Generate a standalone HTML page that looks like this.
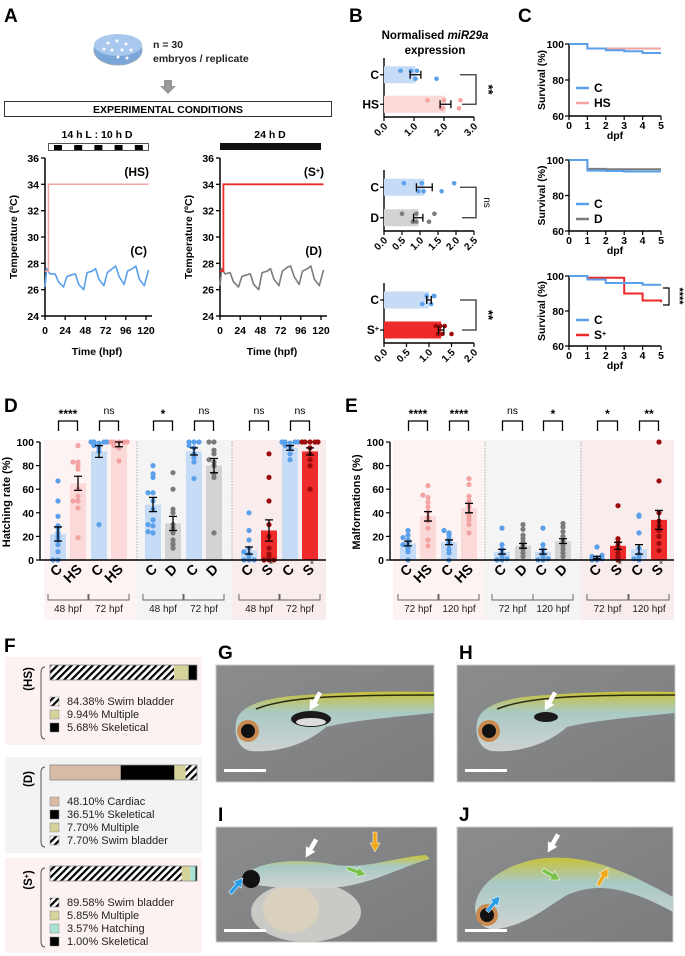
<!DOCTYPE html>
<html><head><meta charset="utf-8"><style>
html,body{margin:0;padding:0;background:#fff;}
svg{display:block;font-family:"Liberation Sans",Arial,sans-serif;}
</style></head><body>
<svg id="fig" width="685" height="956" viewBox="0 0 685 956" xmlns="http://www.w3.org/2000/svg">
<defs>
<pattern id="hatch" patternUnits="userSpaceOnUse" width="5" height="5" patternTransform="rotate(45)"><rect width="5" height="5" fill="#fff"/><rect width="2.2" height="5" fill="#000"/></pattern>
<linearGradient id="photo" x1="0" y1="0" x2="1" y2="1"><stop offset="0" stop-color="#8a8c8e"/><stop offset="1" stop-color="#7a7c7e"/></linearGradient>
<linearGradient id="fishbody" x1="0" y1="0" x2="0" y2="1"><stop offset="0" stop-color="#c8c23a"/><stop offset="0.35" stop-color="#a9c9c4"/><stop offset="1" stop-color="#cfd3d3"/></linearGradient>
</defs>
<text x="4" y="22" font-size="19" font-weight="bold">A</text>
<g>
<ellipse cx="118" cy="50" rx="24" ry="15" fill="#7aa6da" stroke="#9ab" stroke-width="1"/>
<ellipse cx="118" cy="45" rx="24" ry="11" fill="#a9c8ee"/>
<circle cx="108" cy="43" r="1.5" fill="#fff"/><circle cx="117" cy="41" r="1.5" fill="#fff"/><circle cx="126" cy="44" r="1.5" fill="#fff"/><circle cx="112" cy="50" r="1.5" fill="#fff"/><circle cx="122" cy="50" r="1.5" fill="#fff"/><circle cx="131" cy="50" r="1.5" fill="#fff"/><circle cx="104" cy="49" r="1.5" fill="#fff"/><circle cx="118" cy="57" r="1.5" fill="#fff"/><circle cx="127" cy="58" r="1.5" fill="#fff"/>
</g>
<text x="153" y="48" font-size="10.5" font-weight="bold" fill="#222">n = 30</text>
<text x="153" y="62" font-size="10.5" font-weight="bold" fill="#222">embryos / replicate</text>
<polygon points="164,80 172,80 172,86 176,86 168,94 160,86 164,86" fill="#999"/>
<rect x="4.5" y="101.5" width="327" height="15" fill="#fff" stroke="#333" stroke-width="1"/>
<text x="168" y="113" font-size="10.5" font-weight="bold" text-anchor="middle">EXPERIMENTAL CONDITIONS</text>
<text x="97" y="138" font-size="10.5" font-weight="bold" text-anchor="middle">14 h L : 10 h D</text>
<rect x="48.5" y="143.5" width="100" height="7" fill="#fff" stroke="#555" stroke-width="1"/>
<g id="ldsq"></g>
<text x="270" y="138" font-size="10.5" font-weight="bold" text-anchor="middle">24 h D</text>
<rect x="220" y="143" width="101" height="7" fill="#111"/>
<g id="gA"></g>
<text x="349" y="22" font-size="19" font-weight="bold">B</text>
<text x="435" y="39" font-size="11.5" font-weight="bold" text-anchor="middle">Normalised <tspan font-style="italic">miR29a</tspan></text>
<text x="435" y="54" font-size="11.5" font-weight="bold" text-anchor="middle">expression</text>
<g id="gB"></g>
<text x="518" y="22" font-size="19" font-weight="bold">C</text>
<g id="gC"></g>
<text x="4" y="412" font-size="19" font-weight="bold">D</text>
<text x="345" y="412" font-size="19" font-weight="bold">E</text>
<g id="gD"></g>
<g id="gE"></g>
<text x="4" y="652" font-size="19" font-weight="bold">F</text>
<g id="gF"></g>
<g id="gP"></g>
</svg>
<script>
var NS="http://www.w3.org/2000/svg";
function mk(parent,tag,attrs,text){var e=document.createElementNS(NS,tag);for(var k in attrs)e.setAttribute(k,attrs[k]);if(text!==undefined)e.textContent=text;parent.appendChild(e);return e;}
function $(id){return document.getElementById(id);}

// ---------- DATA ----------
var tempTimes=[0,2,6,12,16,22,26,30,36,40,46,50,56,60,64,70,74,80,84,88,94,98,104,108,112,118,123];
var tempControl=[26.2,27.6,27.2,27.2,26.6,26.2,27.0,27.1,27.2,26.4,26.0,27.3,27.4,27.6,26.8,26.3,27.3,27.6,27.8,27.0,26.4,27.4,27.6,27.8,26.8,26.3,27.5];
var tempDark=[26.3,27.6,27.2,27.3,26.6,26.2,27.0,27.1,27.2,26.4,26.0,27.3,27.4,27.6,26.8,26.3,27.4,27.7,27.8,27.0,26.4,27.4,27.6,27.8,26.8,26.3,27.5];
var tempHeatTimes=[0,4,4,123];
var tempHeat=[27.4,27.4,34,34];
var tempTicks=[24,26,28,30,32,34,36];
var timeTicks=[0,24,48,72,96,120];
var bMeans1=[1.05,2.05], bSem1=[0.18,0.18];
var bPtsC1=[0.55,1.05,1.1,1.75,0.9], bPtsHS1=[1.45,1.9,2.0,2.5,2.55,1.95];
var bMeans2=[1.12,0.95], bSem2=[0.22,0.13];
var bPtsC2=[0.55,1.1,1.05,1.6,1.95,0.95], bPtsD2=[0.5,0.8,0.9,1.25,1.4,0.9];
var bMeans3=[1.0,1.27], bSem3=[0.05,0.06];
var bPtsC3=[0.95,1.05,1.1,0.85,1.12], bPtsS3=[1.15,1.2,1.35,1.5,1.25,1.3];
var survDays=[0,1,2,3,4,5];
var surv1C=[100,97.5,96.5,96,95,95], surv1HS=[100,97.5,97.5,97.5,97.5,97.5];
var surv2C=[100,94,93.8,93.5,93.5,93.5], surv2D=[100,95,94.8,94.8,94.8,94.8];
var surv3C=[100,98,96,96,95,95], surv3S=[100,99,99,90,86,85];
var dMeans=[22,65,92,98,47,31,92,80,8,25,95,92];
var dSem=[6,6,5,2,6,6,3,6,3,9,2,3];
var dPoints=[[0,0,7,13,17,20,23,27,29,37,50,67],[19,44,50,50,54,60,77,80,83,83,97],[30,92,95,97,99,100,100,100,100],[84,95,97,100,100,100,100,100],[23,24,29,30,34,43,50,57,57,70,73,80],[10,13,14,17,23,27,30,40,43,60,74],[69,83,87,90,95,97,100,100,100],[23,70,73,80,83,85,90,93,100,100],[0,0,0,3,5,7,10,17,25,40],[0,0,0,2,5,10,20,30,50,70,90],[85,90,95,97,99,100,100,100,100],[60,80,85,90,95,100,100,100,100,100]];
var eMeans=[14,37,15,44,7,12,7,16,2,12,9,34];
var eSem=[2,4,2,4,2,2,2,2,1,3,4,8];
var ePoints=[[0,7,10,12,13,15,17,19,21,25],[12,17,27,33,36,41,45,49,53,55,63],[0,6,9,13,15,18,21,23,25],[23,30,34,37,40,45,48,50,54,64,69],[0,0,1,3,6,9,13,27],[3,6,9,12,15,18,21,26,30],[0,0,1,3,6,9,13,27],[3,6,9,12,16,20,24,28,31],[0,0,1,2,3,4,11],[0,3,6,9,12,15,18,46],[0,1,3,5,10,23,37,38],[8,14,20,25,29,33,40,67,100]];
var groupLabels=["C","HS","C","HS","C","D","C","D","C","S\u00d7","C","S\u00d7"];
var dSig=["****","ns","*","ns","ns","ns"];
var eSig=["****","****","ns","*","*","**"];
var dAges=["48 hpf","72 hpf","48 hpf","72 hpf","48 hpf","72 hpf"];
var eAges=["72 hpf","120 hpf","72 hpf","120 hpf","72 hpf","120 hpf"];
var fHSVals=[84.38,9.94,5.68], fHSCats=["Swim bladder","Multiple","Skeletical"];
var fDVals=[48.10,36.51,7.70,7.70], fDCats=["Cardiac","Skeletical","Multiple","Swim bladder"];
var fSVals=[89.58,5.85,3.57,1.00], fSCats=["Swim bladder","Multiple","Hatching","Skeletical"];

var BLUE="#5aa0ea",LBLUE="#c6dbf6",PINK="#f4a3a3",LPINK="#fbd9d9",RED="#ee2a2a",DRED="#9b0d0d",GREY="#7b7b7b",LGREY="#d3d3d3";
var catColor={"Swim bladder":"url(#hatch)","Multiple":"#d6d39a","Skeletical":"#000","Cardiac":"#d8bba7","Hatching":"#a8e2d2"};

(function(){var g=$("ldsq");for(var i=0;i<5;i++){var r=mk(g,"rect",{x:54+i*20.2,y:145,width:8,height:5,fill:"#000"});

}})();

// ---------- Panel A ----------
function tempChart(x0,lineCol,heatCol,heatLabel,ctlLabel,ctlData,heatW){
  var g=$("gA");
  var xs=function(t){return x0+t*(101/120);};
  var ys=function(v){return 316-(v-24)*(158/12);};
  var ax=mk(g,"path",{d:"M"+x0+",158V316H"+(x0+107),stroke:"#000","stroke-width":1.5,fill:"none"});
  
  
  tempTicks.forEach(function(v){mk(g,"line",{x1:x0-4,x2:x0,y1:ys(v),y2:ys(v),stroke:"#000","stroke-width":1.3});
    var t=mk(g,"text",{x:x0-6,y:ys(v)+4,"font-size":10.5,"font-weight":"bold","text-anchor":"end"},v);
    
    });
  timeTicks.forEach(function(v){mk(g,"line",{x1:xs(v),x2:xs(v),y1:316,y2:320,stroke:"#000","stroke-width":1.3});
    var t=mk(g,"text",{x:xs(v),y:334,"font-size":10.5,"font-weight":"bold","text-anchor":"middle"},v);
    
    });
  var xt=mk(g,"text",{x:x0+52,y:355,"font-size":10.5,"font-weight":"bold","text-anchor":"middle"},"Time (hpf)");
  
  
  var yt=mk(g,"text",{x:0,y:0,"font-size":10.5,"font-weight":"bold","text-anchor":"middle",transform:"translate("+(x0-28)+",237) rotate(-90)"},"Temperature (\u00baC)");
  
  
  var d="";tempTimes.forEach(function(t,i){d+=(i?"L":"M")+xs(t).toFixed(1)+","+ys(ctlData[i]).toFixed(1);});
  var l=mk(g,"path",{d:d,stroke:lineCol,"stroke-width":1.6,fill:"none","stroke-linejoin":"round"});
  
  
  var d2="";tempHeatTimes.forEach(function(t,i){d2+=(i?"L":"M")+xs(t).toFixed(1)+","+ys(tempHeat[i]).toFixed(1);});
  var l2=mk(g,"path",{d:d2,stroke:heatCol,"stroke-width":heatW,fill:"none"});
  
  
  var a=mk(g,"text",{x:x0+104,y:176,"font-size":12,"font-weight":"bold","text-anchor":"end"},heatLabel);
  
  
  var b=mk(g,"text",{x:x0+102,y:255,"font-size":12,"font-weight":"bold","text-anchor":"end"},ctlLabel);
  
  
  return a;
}
tempChart(45,BLUE,PINK,"(HS)","(C)",tempControl,1.5);
var sl=tempChart(220,GREY,RED,"(S","(D)",tempDark,1.8);
mk(sl,"tspan",{"baseline-shift":"super","font-size":7},"+");mk(sl,"tspan",{},")");

// ---------- Panel B ----------
function bChart(yTop,yAxis,maxV,ticks,means,sems,ptsA,ptsB,labA,labB,colA,dotA,colB,dotB,sig,supB){
  var g=$("gB");var x0=384,x1=474;
  var xs=function(v){return x0+v/maxV*(x1-x0);};
  var rowH=(yAxis-yTop)/2;
  var ax=mk(g,"path",{d:"M"+x0+","+yTop+"V"+yAxis+"H"+x1,stroke:"#000","stroke-width":1.4,fill:"none"});
  
  
  ticks.forEach(function(v){mk(g,"line",{x1:xs(v),x2:xs(v),y1:yAxis,y2:yAxis+4,stroke:"#000","stroke-width":1.2});
    var t=mk(g,"text",{x:0,y:0,"font-size":10,"font-weight":"bold","text-anchor":"end",transform:"translate("+(xs(v)+4)+","+(yAxis+10)+") rotate(-45)"},v.toFixed(1));
    
    });
  [[labA,means[0],sems[0],ptsA,colA,dotA],[labB,means[1],sems[1],ptsB,colB,dotB]].forEach(function(r,i){
    var cy=yTop+rowH*(i+0.5)+2;
    var bar=mk(g,"rect",{x:x0,y:cy-8.5,width:xs(r[1])-x0,height:17,fill:r[4]});
    
    
    mk(g,"line",{x1:x0-4,x2:x0,y1:cy,y2:cy,stroke:"#000","stroke-width":1.2});
    var lt=mk(g,"text",{x:x0-5,y:cy+4,"font-size":12,"font-weight":"bold","text-anchor":"end"},r[0]);
    
    
    if(i==1&&supB){mk(lt,"tspan",{"baseline-shift":"super","font-size":7},"+");}
    r[3].forEach(function(v,j){var c=mk(g,"circle",{cx:xs(v),cy:cy+(j%2?4:-4),r:2.3,fill:r[5]});
      
      });
    var e1=xs(r[1]-r[2]),e2=xs(r[1]+r[2]);
    var eb=mk(g,"path",{d:"M"+e1+","+cy+"H"+e2+"M"+e1+","+(cy-4)+"V"+(cy+4)+"M"+e2+","+(cy-4)+"V"+(cy+4),stroke:"#000","stroke-width":1.3,fill:"none"});
    
    
  });
  var c1=yTop+rowH*0.5+2,c2=yTop+rowH*1.5+2;
  var br=mk(g,"path",{d:"M"+(x1-14)+","+c1+"H"+(x1+2)+"V"+c2+"H"+(x1-12),stroke:"#333","stroke-width":1.3,fill:"none"});
  
  
  var st=mk(g,"text",{x:0,y:0,"font-size":sig=="ns"?10:13,"font-weight":sig=="ns"?"normal":"bold","text-anchor":"middle",transform:"translate("+(x1+10)+","+((c1+c2)/2)+") rotate(90)"},sig);
  
  
}
bChart(58,117,3,[0,1,2,3],bMeans1,bSem1,bPtsC1,bPtsHS1,"C","HS",LBLUE,BLUE,LPINK,PINK,"**",false);
bChart(170,231,2.5,[0,0.5,1,1.5,2,2.5],bMeans2,bSem2,bPtsC2,bPtsD2,"C","D",LBLUE,BLUE,LGREY,GREY,"ns",false);
bChart(283,343,2,[0,0.5,1,1.5,2],bMeans3,bSem3,bPtsC3,bPtsS3,"C","S",LBLUE,BLUE,RED,DRED,"**",true);

// ---------- Panel C ----------
function survChart(y100,y60,sA,sB,colB,labB){
  var g=$("gC");var x0=569,x1=661;
  var xs=function(d){return x0+d/5*(x1-x0);};
  var ys=function(v){return y60-(v-60)/40*(y60-y100);};
  var ax=mk(g,"path",{d:"M"+x0+","+y100+"V"+y60+"H"+x1,stroke:"#000","stroke-width":1.4,fill:"none"});
  
  
  [60,80,100].forEach(function(v){mk(g,"line",{x1:x0-4,x2:x0,y1:ys(v),y2:ys(v),stroke:"#000","stroke-width":1.2});
    var t=mk(g,"text",{x:x0-5,y:ys(v)+4,"font-size":10.5,"font-weight":"bold","text-anchor":"end"},v);
    
    });
  survDays.forEach(function(d){mk(g,"line",{x1:xs(d),x2:xs(d),y1:y60,y2:y60+4,stroke:"#000","stroke-width":1.2});
    var t=mk(g,"text",{x:xs(d),y:y60+13,"font-size":10.5,"font-weight":"bold","text-anchor":"middle"},d);
    
    });
  var xt=mk(g,"text",{x:(x0+x1)/2,y:y60+23,"font-size":10.5,"font-weight":"bold","text-anchor":"middle"},"dpf");
  
  
  var yt=mk(g,"text",{x:0,y:0,"font-size":10.5,"font-weight":"bold","text-anchor":"middle",transform:"translate("+(x0-24)+","+((y100+y60)/2)+") rotate(-90)"},"Survival (%)");
  
  
  function step(arr,col,w){var d="M"+xs(0)+","+ys(arr[0]);for(var i=1;i<arr.length;i++){d+="H"+xs(survDays[i])+"V"+ys(arr[i]);}
    var p=mk(g,"path",{d:d,stroke:col,"stroke-width":w,fill:"none"});
    
    }
  step(sB,colB,2);step(sA,BLUE,2);
  var ly=y100+44;
  mk(g,"line",{x1:576,x2:589,y1:ly,y2:ly,stroke:BLUE,"stroke-width":2.5});
  var a=mk(g,"text",{x:594,y:ly+4,"font-size":12,"font-weight":"bold"},"C");
  
  
  mk(g,"line",{x1:576,x2:589,y1:ly+15,y2:ly+15,stroke:colB,"stroke-width":2.5});
  var b=mk(g,"text",{x:594,y:ly+19,"font-size":12,"font-weight":"bold"},labB);
  
  
  return b;
}
survChart(44,116,surv1C,surv1HS,PINK,"HS");
survChart(160,231,surv2C,surv2D,GREY,"D");
var s3=survChart(276,346,surv3C,surv3S,RED,"S");
mk(s3,"tspan",{"baseline-shift":"super","font-size":7},"+");
(function(){var g=$("gC");var br=mk(g,"path",{d:"M663,288H669V305H663",stroke:"#000","stroke-width":1.2,fill:"none"});


var s=mk(g,"text",{x:0,y:0,"font-size":11,"font-weight":"bold","text-anchor":"middle",transform:"translate(676,296) rotate(90)"},"****");

})();

// ---------- Panels D & E ----------
function dotChart(gid,x0,xEnd,centers,bgs,means,sems,pts,sigs,ages,ytitle){
  var g=$(gid);var y0=560,y100=442;
  var ys=function(v){return y0-v/100*(y0-y100);};
  var bgCols=["#fdf3f3","#f4f4f4","#f9ecec"];
  bgs.forEach(function(b,i){var r=mk(g,"rect",{x:b[0],y:440,width:b[1]-b[0],height:180,fill:bgCols[i]});
    
    
    if(i>0){mk(g,"line",{x1:b[0],x2:b[0],y1:442,y2:560,stroke:"#999","stroke-width":0.8,"stroke-dasharray":"1.5,1.5"});}});
  var fills=[LBLUE,LPINK,LBLUE,LPINK,LBLUE,LGREY,LBLUE,LGREY,LBLUE,RED,LBLUE,RED];
  var dots=[BLUE,PINK,BLUE,PINK,BLUE,GREY,BLUE,GREY,BLUE,DRED,BLUE,DRED];
  means.forEach(function(m,i){var cx=centers[i];
    var bar=mk(g,"rect",{x:cx-8,y:ys(m),width:16,height:y0-ys(m),fill:fills[i]});
    
    
    var cnt={};
    pts[i].forEach(function(v){var k=Math.round(v/3);cnt[k]=(cnt[k]||0)+1;var off=[0,-5,5,-8,8,-3,3][(cnt[k]-1)%7];
      var c=mk(g,"circle",{cx:cx+off,cy:ys(v),r:2.6,fill:dots[i]});
      
      });
    var e1=ys(m-sems[i]),e2=ys(Math.min(m+sems[i],100));
    var eb=mk(g,"path",{d:"M"+cx+","+e1+"V"+e2+"M"+(cx-4)+","+e1+"H"+(cx+4)+"M"+(cx-4)+","+e2+"H"+(cx+4),stroke:"#000","stroke-width":1.3,fill:"none"});
    
    
    var lab=groupLabels[i];
    var isS=lab.charAt(0)=="S";
    var t=mk(g,"text",{x:0,y:0,"font-size":14,"font-weight":"bold","text-anchor":"end",transform:"translate("+(cx+5)+",570) rotate(-45)"},isS?"S":lab);
    
    
    if(isS){var x=mk(g,"text",{x:cx+2,y:565,"font-size":7,"text-anchor":"middle"},"\u00d7");
      
      }
  });
  var ax=mk(g,"path",{d:"M"+x0+","+y100+"V"+y0+"H"+xEnd,stroke:"#000","stroke-width":1.4,fill:"none"});
  
  
  [0,20,40,60,80,100].forEach(function(v){mk(g,"line",{x1:x0-4,x2:x0,y1:ys(v),y2:ys(v),stroke:"#000","stroke-width":1.2});
    var t=mk(g,"text",{x:x0-6,y:ys(v)+4,"font-size":10.5,"font-weight":"bold","text-anchor":"end"},v);
    
    });
  var yt=mk(g,"text",{x:0,y:0,"font-size":11,"font-weight":"bold","text-anchor":"middle",transform:"translate("+(x0-30)+",502) rotate(-90)"},ytitle);
  
  
  for(var p=0;p<6;p++){var a=centers[2*p],b=centers[2*p+1],mid=(a+b)/2;
    var br=mk(g,"path",{d:"M"+(a+0.5)+",431V421H"+(b-0.5)+"V431",stroke:"#000","stroke-width":1.3,fill:"none"});
    
    
    var st=mk(g,"text",{x:mid,y:sigs[p]=="ns"?414:418,"font-size":sigs[p]=="ns"?10.5:12,"font-weight":sigs[p]=="ns"?"normal":"bold","text-anchor":"middle"},sigs[p]);
    
    
    var l=a-10,r=b+10;
    var ab=mk(g,"path",{d:"M"+l+",594V600H"+r+"V594",stroke:"#666","stroke-width":1,fill:"none"});
    
    
    var at=mk(g,"text",{x:mid,y:612,"font-size":10,"text-anchor":"middle",fill:"#222"},ages[p]);
    
    }
}
dotChart("gD",40,326,[58,78,99,119,153,173,194,214,249,269,290,310],[[44,137],[137,232],[232,326]],dMeans,dSem,dPoints,dSig,dAges,"Hatching rate (%)");
dotChart("gE",390,674,[408,428,449,469,502,523,543,563,597,618,639,659],[[393,485],[485,581],[581,674]],eMeans,eSem,ePoints,eSig,eAges,"Malformations (%)");

// ---------- Panel F ----------
function fBox(yTop,yBot,vals,cats,label){
  var g=$("gF");var bx=50,bw=147;
  var bg=mk(g,"rect",{x:5,y:yTop,width:197,height:yBot-yTop,fill:label=="(D)"?"#f3f3f3":"#fcf2f2"});
  
  
  var by=yTop+8;var x=bx;var tot=vals.reduce(function(a,b){return a+b;},0);
  vals.forEach(function(v,i){var w=v/tot*bw;
    var r=mk(g,"rect",{x:x,y:by,width:w,height:15,fill:catColor[cats[i]]});
    
    x+=w;});
  mk(g,"rect",{x:bx,y:by,width:bw,height:15,fill:"none",stroke:"#888","stroke-width":0.8});
  var br=mk(g,"path",{d:"M45,"+(by+2)+"Q41,"+(by+2)+" 41,"+(by+8)+"V"+(yBot-12)+"Q41,"+(yBot-6)+" 45,"+(yBot-6),stroke:"#555","stroke-width":1,fill:"none"});
  
  
  var ly=by+36;
  vals.forEach(function(v,i){var yy=ly+i*13;
    var sw=mk(g,"rect",{x:50,y:yy-4,width:9,height:9,fill:catColor[cats[i]],stroke:"#888","stroke-width":0.5});
    
    
    var t=mk(g,"text",{x:67,y:yy+4,"font-size":11,fill:"#222"},v.toFixed(2)+"%  "+cats[i]);
    t.setAttribute('xml:space','preserve');
    
    });
  var lt=mk(g,"text",{x:0,y:0,"font-size":11.5,"font-weight":"bold","text-anchor":"middle",transform:"translate(32,"+(by+14)+") rotate(-90)"},label);
  
  
  return lt;
}
fBox(657,745,fHSVals,fHSCats,"(HS)");
fBox(757,853,fDVals,fDCats,"(D)");
var fs=fBox(858,953,fSVals,fSCats,"(S");
mk(fs,"tspan",{"baseline-shift":"super","font-size":7},"+");mk(fs,"tspan",{},")");

// ---------- Photos ----------
function arrow(g,x,y,ang,col){var a=mk(g,"path",{d:"M0,0L-5,-9H-2V-20H2V-9H5Z",fill:col,stroke:"#fff","stroke-width":0.5,transform:"translate("+x+","+y+") rotate("+ang+")"});
  
  }
function photo(x,y,w,h,letter,kind){
  var g=$("gP");
  var L=mk(g,"text",{x:x+2,y:y-6,"font-size":19,"font-weight":"bold"},letter);
  
  
  var r=mk(g,"rect",{x:x,y:y,width:w,height:h,fill:"url(#photo)",stroke:"#ccc","stroke-width":1});
  
  
  var fg=mk(g,"g",{transform:"translate("+x+","+y+")"});
  
  
  if(kind=="straight"){
    mk(fg,"path",{d:"M20,58C22,40 50,32 90,30C130,27 180,26 "+w+",27V48C180,52 140,55 110,62C90,80 60,88 35,86C22,84 18,70 20,58Z",fill:"url(#fishbody)"});
    mk(fg,"path",{d:"M40,44C70,32 120,30 "+w+",30",stroke:"#2a2a10","stroke-width":1.5,fill:"none"});
    mk(fg,"circle",{cx:32,cy:66,r:11,fill:"#c88a50"});mk(fg,"circle",{cx:32,cy:66,r:7,fill:"#111"});
  } else if(kind=="edema"){
    mk(fg,"ellipse",{cx:90,cy:85,rx:55,ry:30,fill:"#c9c9c6"});
    mk(fg,"ellipse",{cx:75,cy:82,rx:28,ry:24,fill:"#d9d0bd"});
    mk(fg,"path",{d:"M30,48C40,35 80,30 120,38C150,42 180,30 210,28L214,32C190,38 160,55 125,60C90,62 60,62 30,56Z",fill:"url(#fishbody)"});
    mk(fg,"circle",{cx:35,cy:52,r:9,fill:"#111"});
  } else {
    mk(fg,"path",{d:"M18,80C20,60 40,40 80,32C130,25 170,45 "+w+",70V85C170,60 140,55 110,68C90,80 70,98 40,102C25,104 18,92 18,80Z",fill:"url(#fishbody)"});
    mk(fg,"circle",{cx:30,cy:88,r:11,fill:"#c88a50"});mk(fg,"circle",{cx:30,cy:88,r:7,fill:"#111"});
  }
  var sb=mk(g,"rect",{x:x+8,y:y+h-13,width:42,height:3,fill:"#fff"});
  
  
  return fg;
}
photo(216,665,218,117,"G","straight");
mk($("gP"),"ellipse",{cx:311,cy:719,rx:20,ry:8,fill:"#1a1a1a"});mk($("gP"),"ellipse",{cx:311,cy:722,rx:15,ry:4,fill:"#ddd"});
arrow($("gP"),310,710,30,"#fff");
photo(457,665,218,117,"H","straight");
mk($("gP"),"ellipse",{cx:546,cy:717,rx:12,ry:5,fill:"#1a1a1a"});
arrow($("gP"),545,710,30,"#fff");
photo(216,827,221,115,"I","edema");
arrow($("gP"),306,857,30,"#fff");arrow($("gP"),375,852,0,"#f0a818");arrow($("gP"),243,878,-140,"#2a9ee8");arrow($("gP"),366,875,-70,"#7ac24a");
photo(457,827,216,115,"J","curved");
arrow($("gP"),548,852,30,"#fff");arrow($("gP"),608,868,-150,"#f0a818");arrow($("gP"),500,896,-140,"#2a9ee8");arrow($("gP"),560,880,-60,"#7ac24a");
</script>
</body></html>
